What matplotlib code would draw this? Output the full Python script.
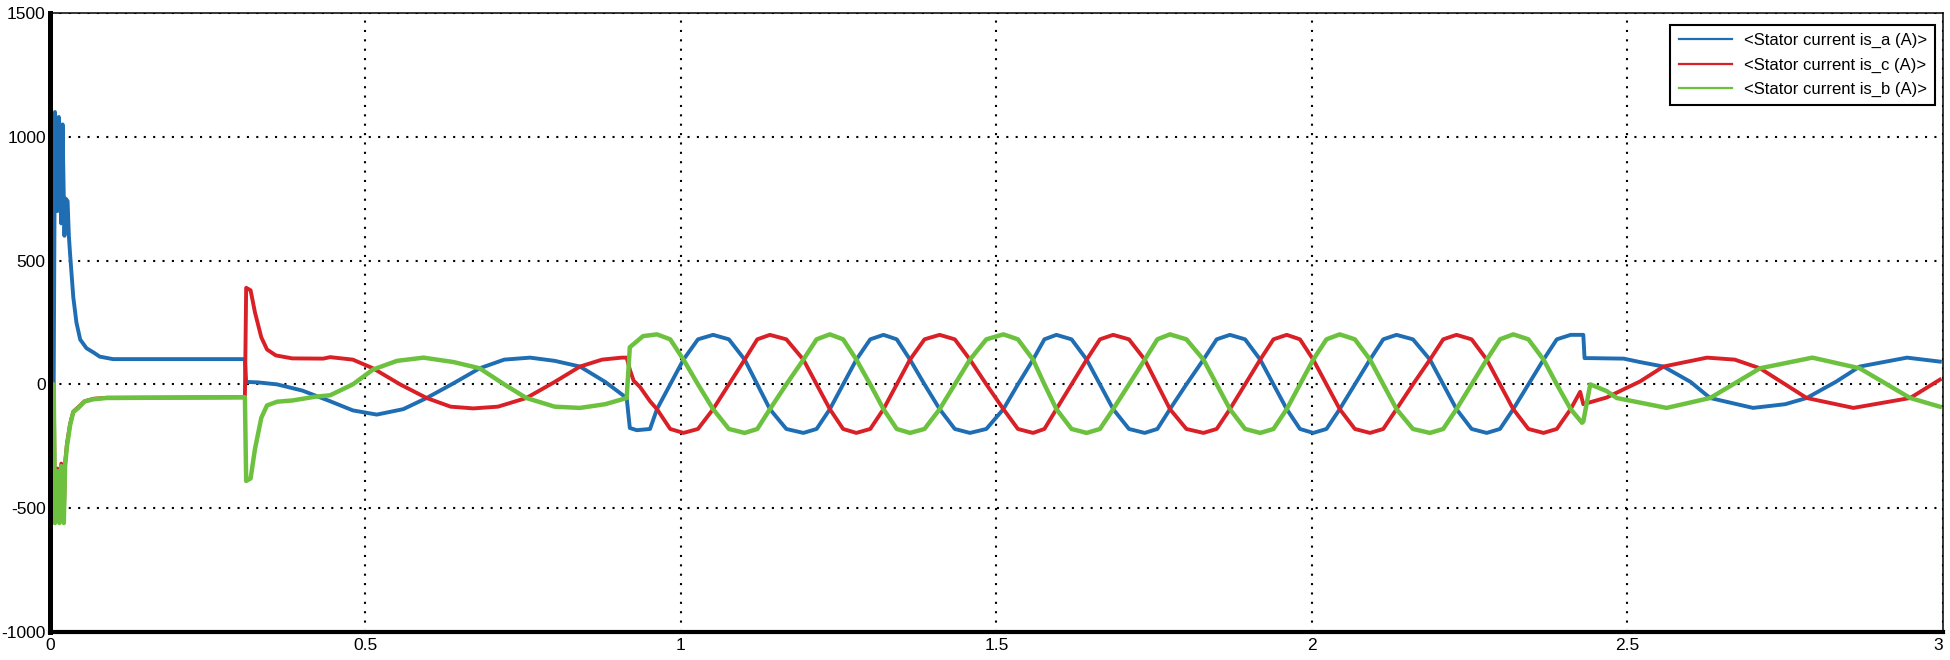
import matplotlib
matplotlib.use("Agg")
import matplotlib.pyplot as plt

# --- data (time in s, current in A) ---

# phase a (blue), start-up and first low-speed stage
t_a_pre = [0, 0.006, 0.008, 0.012, 0.014, 0.018, 0.020, 0.023, 0.025, 0.028, 0.030, 0.032,
           0.037, 0.042, 0.048, 0.058, 0.069, 0.079, 0.100, 0.309, 0.311, 0.330, 0.360, 0.400,
           0.444, 0.480, 0.518, 0.560, 0.597, 0.640, 0.681, 0.720, 0.761, 0.800, 0.840, 0.880,
           0.914, 0.919, 0.930, 0.951]
i_a_pre = [0, 0, 1100, 700, 1080, 650, 1050, 600, 750, 740, 600, 525,
           353, 250, 181, 146, 129, 112, 102, 102, 10, 8, 0, -25,
           -68, -105, -122, -100, -55, 5, 65, 100, 108, 95, 72, 10,
           -55, -176, -185, -180]

# phase c (red)
t_c_pre = [0, 0.006, 0.008, 0.012, 0.015, 0.018, 0.022, 0.024, 0.027, 0.032, 0.037, 0.045,
           0.055, 0.069, 0.090, 0.309, 0.311, 0.318, 0.325, 0.335, 0.344, 0.358, 0.384, 0.433,
           0.444, 0.480, 0.512, 0.555, 0.597, 0.635, 0.671, 0.710, 0.755, 0.800, 0.840, 0.875,
           0.906, 0.914, 0.919, 0.925, 0.935, 0.951]
i_c_pre = [0, 0, -540, -340, -540, -320, -540, -320, -240, -160, -110, -92,
           -68, -58, -54, -52, 390, 380, 290, 190, 141, 117, 105, 104,
           110, 100, 65, 0, -55, -90, -97, -90, -55, 10, 72, 100,
           108, 108, 60, 15, -10, -68]

# phase b (green)
t_b_pre = [0, 0.006, 0.008, 0.012, 0.015, 0.018, 0.022, 0.024, 0.027, 0.032, 0.037, 0.045,
           0.055, 0.069, 0.090, 0.309, 0.311, 0.318, 0.325, 0.335, 0.344, 0.360, 0.384, 0.420,
           0.444, 0.480, 0.512, 0.550, 0.592, 0.640, 0.681, 0.720, 0.755, 0.800, 0.840, 0.880,
           0.914, 0.919, 0.940]
i_b_pre = [0, 0, -560, -350, -560, -330, -560, -330, -250, -164, -112, -95,
           -69, -60, -55, -52, -390, -380, -260, -135, -85, -70, -65, -50,
           -44, 0, 60, 95, 108, 90, 65, 0, -55, -90, -95, -80,
           -55, 150, 195]

# high-speed stage, shared time base
t_mid = [0.962, 0.983, 1.004, 1.027, 1.051, 1.076, 1.101, 1.121, 1.141, 1.167, 1.194, 1.215,
         1.236, 1.257, 1.278, 1.300, 1.321, 1.342, 1.363, 1.386, 1.410, 1.434, 1.458, 1.484,
         1.511, 1.534, 1.558, 1.576, 1.595, 1.619, 1.643, 1.664, 1.685, 1.710, 1.735, 1.755,
         1.775, 1.801, 1.828, 1.849, 1.870, 1.894, 1.918, 1.939, 1.960, 1.981, 2.002, 2.023,
         2.044, 2.068, 2.092, 2.113, 2.134, 2.160, 2.187, 2.208, 2.229, 2.253, 2.277, 2.298,
         2.319, 2.343, 2.367, 2.388, 2.410]
i_a_mid = [-100, 0, 100, 182, 200, 182, 100, 0, -100, -180, -196, -180,
           -100, 0, 100, 182, 200, 182, 100, 0, -100, -180, -196, -180,
           -100, 0, 100, 182, 200, 182, 100, 0, -100, -180, -196, -180,
           -100, 0, 100, 182, 200, 182, 100, 0, -100, -180, -196, -180,
           -100, 0, 100, 182, 200, 182, 100, 0, -100, -180, -196, -180,
           -100, 0, 100, 182, 200]
i_c_mid = [-100, -180, -196, -180, -100, 0, 100, 182, 200, 182, 100, 0,
           -100, -180, -196, -180, -100, 0, 100, 182, 200, 182, 100, 0,
           -100, -180, -196, -180, -100, 0, 100, 182, 200, 182, 100, 0,
           -100, -180, -196, -180, -100, 0, 100, 182, 200, 182, 100, 0,
           -100, -180, -196, -180, -100, 0, 100, 182, 200, 182, 100, 0,
           -100, -180, -196, -180, -100]
i_b_mid = [202, 182, 100, 0, -100, -180, -196, -180, -100, 0, 100, 182,
           202, 182, 100, 0, -100, -180, -196, -180, -100, 0, 100, 182,
           202, 182, 100, 0, -100, -180, -196, -180, -100, 0, 100, 182,
           202, 182, 100, 0, -100, -180, -196, -180, -100, 0, 100, 182,
           202, 182, 100, 0, -100, -180, -196, -180, -100, 0, 100, 182,
           202, 182, 100, 0, -100]

# second low-speed stage
t_a_post = [2.430, 2.432, 2.441, 2.494, 2.520, 2.557, 2.600, 2.631, 2.699, 2.750, 2.784,
            2.830, 2.868, 2.943, 2.995]
i_a_post = [200, 106, 106, 104, 90, 72, 10, -55, -95, -80, -55, 10, 72, 108, 92]
t_c_post = [2.425, 2.430, 2.467, 2.520, 2.557, 2.626, 2.670, 2.710, 2.784, 2.858, 2.948, 2.995]
i_c_post = [-30, -80, -53, 12, 72, 108, 100, 65, -55, -95, -55, 19]
t_b_post = [2.428, 2.430, 2.441, 2.467, 2.483, 2.562, 2.631, 2.710, 2.793, 2.868, 2.948, 2.995]
i_b_post = [-155, -150, 0, -27, -55, -95, -55, 65, 108, 65, -55, -90]

labels = ["<Stator current is_a (A)>", "<Stator current is_c (A)>", "<Stator current is_b (A)>"]
x_ticks = [0, 0.5, 1, 1.5, 2, 2.5, 3]
x_tick_labels = ["0", "0.5", "1", "1.5", "2", "2.5", "3"]
y_ticks = [-1000, -500, 0, 500, 1000, 1500]

# --- figure ---
plt.rcParams["font.family"] = ["Liberation Sans", "DejaVu Sans"]
plt.rcParams["axes.unicode_minus"] = False

fig = plt.figure(figsize=(19.5, 6.6), dpi=100)
ax = fig.add_axes([0.0256, 0.0424, 0.9708, 0.938])

ax.plot(t_a_pre + t_mid + t_a_post, i_a_pre + i_a_mid + i_a_post,
        color="#1f6db3", lw=2.8, label=labels[0])
ax.plot(t_c_pre + t_mid + t_c_post, i_c_pre + i_c_mid + i_c_post,
        color="#d92027", lw=2.8, label=labels[1])
ax.plot(t_b_pre + t_mid + t_b_post, i_b_pre + i_b_mid + i_b_post,
        color="#6cc23f", lw=3.2, label=labels[2])

ax.set_xlim(0, 3)
ax.set_ylim(-1000, 1500)
ax.set_xticks(x_ticks)
ax.set_xticklabels(x_tick_labels)
ax.set_yticks(y_ticks)
ax.tick_params(length=0, labelsize=12.5, colors="black")
ax.tick_params(axis="y", pad=3)
ax.tick_params(axis="x", pad=4)
for lab in ax.get_xticklabels():
    if lab.get_text() == "3":
        lab.set_horizontalalignment("right")

ax.grid(True, color="black", linestyle=(0, (1, 3.5)), linewidth=1.5)

ax.spines["left"].set_linewidth(3.6)
ax.spines["bottom"].set_linewidth(3.0)
ax.spines["top"].set_linewidth(1.1)
ax.spines["right"].set_linewidth(1.1)

leg = ax.legend(loc="upper right", bbox_to_anchor=(0.9958, 0.9806), borderaxespad=0,
                fontsize=12, fancybox=False, edgecolor="black", framealpha=1,
                handlelength=3.2, handletextpad=0.7, labelspacing=0.55, borderpad=0.5)
leg.get_frame().set_linewidth(1.5)
for line in leg.get_lines():
    line.set_linewidth(1.6)

fig.savefig("out.png", dpi=100)
